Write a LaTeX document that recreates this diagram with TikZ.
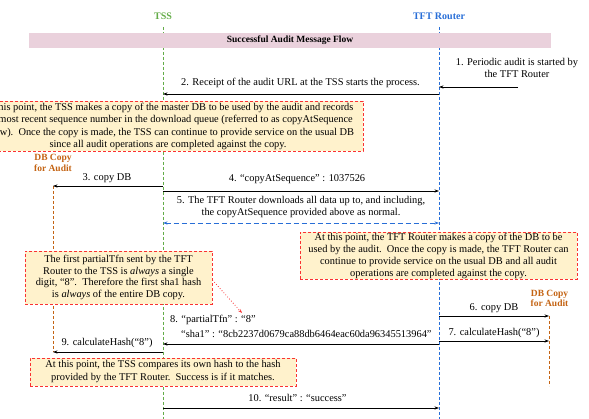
\documentclass[tikz,border=0pt]{standalone}
\usepackage{fontspec}
\setmainfont{Liberation Serif}
\usetikzlibrary{arrows.meta}
\definecolor{tssgreen}{RGB}{100,172,72}
\definecolor{tftblue}{RGB}{40,110,215}
\definecolor{dborange}{RGB}{196,100,20}
\definecolor{bannerpink}{RGB}{234,209,220}
\definecolor{notefill}{RGB}{255,242,204}
\definecolor{notered}{RGB}{250,50,50}
\begin{document}
\begin{tikzpicture}[x=1pt,y=-1pt,
  every node/.style={font=\fontsize{10.4}{12}\selectfont, inner sep=0pt},
  msg/.style={draw=black, line width=0.7pt, -{Stealth[length=4.5pt,width=3.2pt]}},
  lifeline/.style={line width=0.8pt, dash pattern=on 3pt off 2pt},
  note/.style={draw=notered, fill=notefill, line width=0.8pt, dash pattern=on 3pt off 2pt, align=center},
  actor/.style={font=\fontsize{10}{12}\selectfont\bfseries},
  dbcopy/.style={font=\fontsize{9.5}{10.5}\selectfont\bfseries, text=dborange, align=center}]
\useasboundingbox (0,0) rectangle (589,419);
\clip (0,0) rectangle (589,419);

% actors
\node[actor, text=tssgreen] (tss) at (163,16) {TSS};
\node[actor, text=tftblue] (tft) at (439,16) {TFT Router};
\coordinate (tssTop) at (163,27);
\coordinate (tssBot) at (163,425);
\coordinate (tftTop) at (439,27);
\coordinate (tftBot) at (439,425);
\draw[lifeline, tssgreen] (tssTop) -- (tssBot);
\draw[lifeline, tftblue] (tftTop) -- (tftBot);

% DB copy lifelines
\node[dbcopy] (dbl) at (53,163) {DB Copy\\for Audit};
\node[dbcopy] (dbr) at (549.5,298.5) {DB Copy\\for Audit};
\coordinate (dblTop) at (53,186);
\coordinate (dblBot) at (53,352);
\coordinate (dbrTop) at (549,316);
\coordinate (dbrBot) at (549,386);
\draw[lifeline, dborange] (dblTop) -- (dblBot);
\draw[lifeline, dborange] (dbrTop) -- (dbrBot);

% banner
\node[fill=bannerpink, minimum width=522pt, minimum height=15pt,
      font=\fontsize{9.5}{11}\selectfont\bfseries] (banner) at (290,40.5) {Successful Audit Message Flow};

% coordinates on lifelines
\coordinate (s1) at (518,87);   \coordinate (r1) at (439,87);
\coordinate (r2) at (439,94);   \coordinate (t2) at (163,94);
\coordinate (t3) at (163,186);  \coordinate (l3) at (53,186);
\coordinate (t4) at (163,191);  \coordinate (r4) at (439,191);
\coordinate (t5) at (163,223);  \coordinate (r5) at (439,223);
\coordinate (r6) at (439,316);  \coordinate (d6) at (549,316);
\coordinate (r7) at (439,341);  \coordinate (d7) at (549,341);
\coordinate (r8) at (439,344);  \coordinate (t8) at (163,344);
\coordinate (t9) at (163,352);  \coordinate (l9) at (53,352);
\coordinate (t10) at (163,408); \coordinate (r10) at (439,408);

% message 1
\node[align=center] (m1) at (517,68) {1. Periodic audit is started by\\the TFT Router};
\draw[msg] (s1) -- (r1);
% message 2
\node (m2) at (300.5,83) {2. Receipt of the audit URL at the TSS starts the process.};
\draw[msg] (r2) -- (t2);

% note 1
\node[note, minimum width=390pt, minimum height=50pt, font=\fontsize{10.4}{12.3}\selectfont] (n1) at (168,126.5)
 {At this point, the TSS makes a copy of the master DB to be used by the audit and records\\
  the most recent sequence number in the download queue (referred to as copyAtSequence\\
  below).\ \ Once the copy is made, the TSS can continue to provide service on the usual DB\\
  since all audit operations are completed against the copy.};

% message 3 and 4
\node (m3) at (107,178.5) {3. copy DB};
\draw[msg] (t3) -- (l3);
\node (m4) at (297,179) {4. “copyAtSequence” : 1037526};
\draw[msg] (t4) -- (r4);

% message 5
\node[align=center] (m5) at (301,207) {5. The TFT Router downloads all data up to, and including,\\the copyAtSequence provided above as normal.};
\draw[tftblue, line width=0.8pt, dash pattern=on 5pt off 3pt, {Stealth[length=4.5pt,width=3.2pt]}-{Stealth[length=4.5pt,width=3.2pt]}] (t5) -- (r5);

% note 2
\node[note, minimum width=277pt, minimum height=47pt, font=\fontsize{10.4}{11.7}\selectfont] (n2) at (438.5,256)
 {At this point, the TFT Router makes a copy of the DB to be\\
  used by the audit.\ \ Once the copy is made, the TFT Router can\\
  continue to provide service on the usual DB and all audit\\
  operations are completed against the copy.};

% note 3
\node[note, minimum width=187pt, minimum height=53pt, font=\fontsize{10.4}{11.8}\selectfont] (n3) at (118.5,277.5)
 {The first partialTfn sent by the TFT\\
  Router to the TSS is \textit{always} a single\\
  digit, “8”.\ \ Therefore the first sha1 hash\\
  is \textit{always} of the entire DB copy.};
\coordinate (p8) at (242,313);
\draw[notered, line width=0.8pt, dotted, -{Stealth[length=4pt,width=3pt]}] (n3.east |- 0,280) -- (p8);

% message 6
\node (m6) at (494,308) {6. copy DB};
\draw[msg] (r6) -- (d6);
% message 7
\node (m7) at (494,333) {7. calculateHash(“8”)};
\draw[msg] (r7) -- (d7);
% message 8
\node[anchor=west] (m8a) at (170,320) {8. “partialTfn” : “8”};
\node[anchor=west] (m8b) at (181,334) {“sha1” : “8cb2237d0679ca88db6464eac60da96345513964”};
\draw[msg] (r8) -- (t8);
% message 9
\node (m9) at (107,343) {9. calculateHash(“8”)};
\draw[msg] (t9) -- (l9);

% note 4
\node[note, minimum width=266pt, minimum height=28pt, font=\fontsize{10.4}{13}\selectfont] (n4) at (163,372)
 {At this point, the TSS compares its own hash to the hash\\
  provided by the TFT Router.\ \ Success is if it matches.};

% message 10
\node (m10) at (297.5,398) {10. “result” : “success”};
\draw[msg] (t10) -- (r10);
\end{tikzpicture}
\end{document}
